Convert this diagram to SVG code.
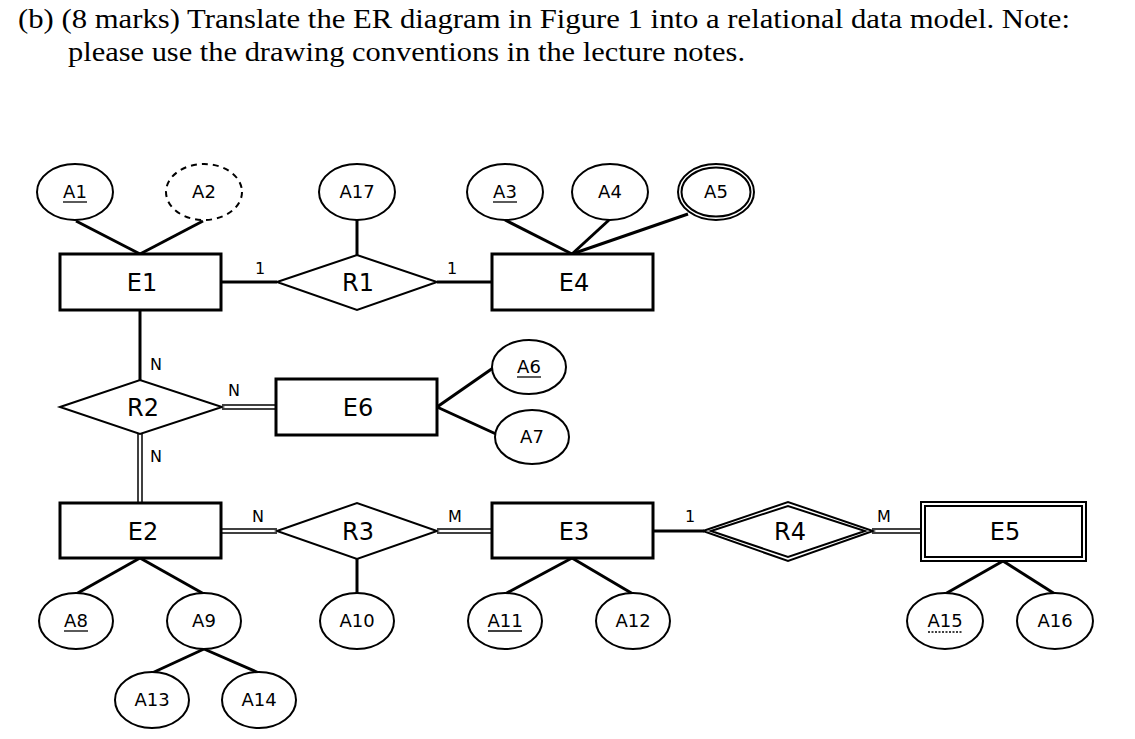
<svg xmlns="http://www.w3.org/2000/svg" width="1135" height="739" viewBox="0 0 1135 739">
<style>
.title{font-family:"Liberation Serif","Times New Roman",serif;font-size:27px;fill:#000}
.ent{fill:#fff;stroke:#000;stroke-width:3}
.ent2{fill:#fff;stroke:#000;stroke-width:2}
.rel{fill:#fff;stroke:#000;stroke-width:2}
.att{fill:#fff;stroke:#000;stroke-width:2}
.dash{stroke-dasharray:6,5}
.ln{stroke:#000;stroke-width:3;fill:none}
.ln2{stroke:#000;stroke-width:1.5;fill:none}
.lbl{font-family:"DejaVu Sans",sans-serif;font-size:24px;text-anchor:middle;fill:#000}
.alb{font-family:"DejaVu Sans",sans-serif;font-size:18px;text-anchor:middle;fill:#000}
.card{font-family:"DejaVu Sans",sans-serif;font-size:16px;text-anchor:middle;fill:#000}
.ul{stroke:#000;stroke-width:1.3}
.uld{stroke:#000;stroke-width:1.3;stroke-dasharray:2,1.5}
</style>
<text class="title" x="18" y="28" textLength="1052" lengthAdjust="spacingAndGlyphs">(b) (8 marks) Translate the ER diagram in Figure 1 into a relational data model. Note:</text>
<text class="title" x="68" y="61" textLength="677" lengthAdjust="spacingAndGlyphs">please use the drawing conventions in the lecture notes.</text>

<g id="connectors">
<line class="ln" x1="76" y1="221" x2="140" y2="254"/>
<line class="ln" x1="203" y1="221" x2="140" y2="254"/>
<line class="ln" x1="221" y1="282" x2="277" y2="282"/>
<line class="ln" x1="357" y1="220" x2="357" y2="255"/>
<line class="ln" x1="437" y1="282" x2="492" y2="282"/>
<line class="ln" x1="505" y1="220" x2="572" y2="254"/>
<line class="ln" x1="609" y1="220" x2="572" y2="254"/>
<line class="ln" x1="688" y1="214" x2="572" y2="254"/>
<line class="ln" x1="140" y1="310" x2="140" y2="380"/>
<line class="ln2" x1="222" y1="405" x2="276" y2="405"/>
<line class="ln2" x1="222" y1="409" x2="276" y2="409"/>
<line class="ln2" x1="138" y1="434" x2="138" y2="503"/>
<line class="ln2" x1="142" y1="434" x2="142" y2="503"/>
<line class="ln" x1="437" y1="407" x2="493" y2="368"/>
<line class="ln" x1="437" y1="407" x2="496" y2="434"/>
<line class="ln2" x1="221" y1="529" x2="277" y2="529"/>
<line class="ln2" x1="221" y1="533" x2="277" y2="533"/>
<line class="ln2" x1="437" y1="529" x2="492" y2="529"/>
<line class="ln2" x1="437" y1="533" x2="492" y2="533"/>
<line class="ln" x1="653" y1="531" x2="704" y2="531"/>
<line class="ln2" x1="872" y1="529" x2="921" y2="529"/>
<line class="ln2" x1="872" y1="533" x2="921" y2="533"/>
<line class="ln" x1="140" y1="558" x2="76" y2="594"/>
<line class="ln" x1="140" y1="558" x2="204" y2="594"/>
<line class="ln" x1="357" y1="559" x2="357" y2="594"/>
<line class="ln" x1="572" y1="558" x2="505" y2="594"/>
<line class="ln" x1="572" y1="558" x2="633" y2="594"/>
<line class="ln" x1="204" y1="649" x2="152" y2="673"/>
<line class="ln" x1="204" y1="649" x2="259" y2="673"/>
<line class="ln" x1="1003" y1="561" x2="945" y2="594"/>
<line class="ln" x1="1003" y1="561" x2="1055" y2="594"/>
<text class="card" x="260" y="274">1</text>
<text class="card" x="452" y="274">1</text>
<text class="card" x="156" y="370">N</text>
<text class="card" x="234" y="396">N</text>
<text class="card" x="156" y="462">N</text>
<text class="card" x="258" y="522">N</text>
<text class="card" x="455" y="522">M</text>
<text class="card" x="690" y="522">1</text>
<text class="card" x="884" y="522">M</text>
</g>

<g id="A1"><ellipse class="att" cx="75" cy="192" rx="38" ry="28"/><text class="alb" x="75" y="198">A1</text><line class="ul" x1="63" y1="202" x2="87" y2="202"/></g>
<g id="A2"><ellipse class="att dash" cx="204" cy="192" rx="38" ry="28"/><text class="alb" x="204" y="198">A2</text></g>
<g id="E1"><rect class="ent" x="60" y="254" width="161" height="56"/><text class="lbl" x="142" y="291">E1</text></g>
<g id="A17"><ellipse class="att" cx="357" cy="192" rx="38" ry="28"/><text class="alb" x="357" y="198">A17</text></g>
<g id="R1"><polygon class="rel" points="277,282 357,255 437,282 357,310"/><text class="lbl" x="358" y="291">R1</text></g>
<g id="A3"><ellipse class="att" cx="505" cy="192" rx="38" ry="28"/><text class="alb" x="505" y="198">A3</text><line class="ul" x1="493" y1="202" x2="517" y2="202"/></g>
<g id="A4"><ellipse class="att" cx="610" cy="192" rx="38" ry="28"/><text class="alb" x="610" y="198">A4</text></g>
<g id="A5"><ellipse class="att" cx="716" cy="192" rx="38" ry="28"/><ellipse class="att" cx="716" cy="192" rx="34.5" ry="24.5"/><text class="alb" x="716" y="198">A5</text></g>
<g id="E4"><rect class="ent" x="492" y="254" width="161" height="56"/><text class="lbl" x="574" y="291">E4</text></g>
<g id="R2"><polygon class="rel" points="60,407 140,380 222,407 140,434"/><text class="lbl" x="143" y="416">R2</text></g>
<g id="E6"><rect class="ent" x="276" y="379" width="161" height="56"/><text class="lbl" x="358" y="416">E6</text></g>
<g id="A6"><ellipse class="att" cx="529" cy="367" rx="37" ry="27"/><text class="alb" x="529" y="373">A6</text><line class="ul" x1="517" y1="377" x2="541" y2="377"/></g>
<g id="A7"><ellipse class="att" cx="532" cy="437" rx="37" ry="27"/><text class="alb" x="532" y="443">A7</text></g>
<g id="E2"><rect class="ent" x="60" y="503" width="161" height="55"/><text class="lbl" x="143" y="540">E2</text></g>
<g id="R3"><polygon class="rel" points="277,531 357,503 437,531 357,559"/><text class="lbl" x="358" y="540">R3</text></g>
<g id="E3"><rect class="ent" x="492" y="503" width="161" height="55"/><text class="lbl" x="574" y="540">E3</text></g>
<g id="R4"><polygon class="rel" points="703,531 788,502 873,531 788,561"/><polygon class="rel" points="711,531 788,506 865,531 788,557"/><text class="lbl" x="790" y="540">R4</text></g>
<g id="E5"><rect class="ent2" x="921" y="502" width="165" height="59"/><rect class="ent2" x="925" y="506" width="157" height="51"/><text class="lbl" x="1005" y="540">E5</text></g>
<g id="A8"><ellipse class="att" cx="76" cy="621" rx="37" ry="28"/><text class="alb" x="76" y="627">A8</text><line class="ul" x1="64" y1="631" x2="88" y2="631"/></g>
<g id="A9"><ellipse class="att" cx="204" cy="621" rx="37" ry="28"/><text class="alb" x="204" y="627">A9</text></g>
<g id="A10"><ellipse class="att" cx="357" cy="621" rx="37" ry="28"/><text class="alb" x="357" y="627">A10</text></g>
<g id="A11"><ellipse class="att" cx="505" cy="621" rx="37" ry="28"/><text class="alb" x="505" y="627">A11</text><line class="ul" x1="488" y1="631" x2="522" y2="631"/></g>
<g id="A12"><ellipse class="att" cx="633" cy="621" rx="37" ry="28"/><text class="alb" x="633" y="627">A12</text></g>
<g id="A13"><ellipse class="att" cx="152" cy="700" rx="37" ry="28"/><text class="alb" x="152" y="706">A13</text></g>
<g id="A14"><ellipse class="att" cx="259" cy="700" rx="37" ry="28"/><text class="alb" x="259" y="706">A14</text></g>
<g id="A15"><ellipse class="att" cx="945" cy="621" rx="38" ry="28"/><text class="alb" x="945" y="627">A15</text><line class="uld" x1="928" y1="632" x2="962" y2="632"/></g>
<g id="A16"><ellipse class="att" cx="1055" cy="621" rx="38" ry="28"/><text class="alb" x="1055" y="627">A16</text></g>
</svg>
